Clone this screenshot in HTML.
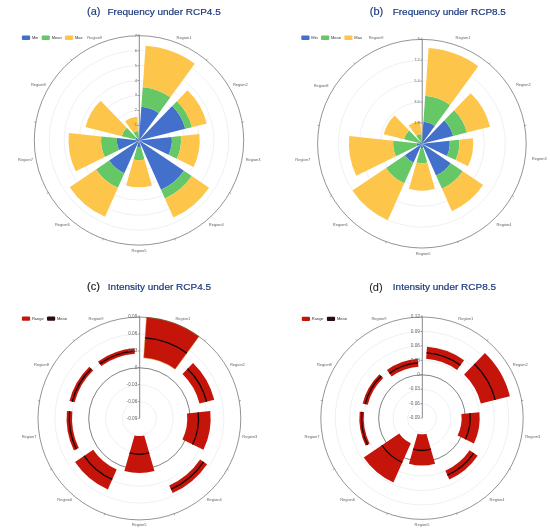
<!DOCTYPE html>
<html><head><meta charset="utf-8"><title>Frequency and intensity under RCP scenarios</title>
<style>html,body{margin:0;padding:0;background:#fff}svg{display:block}</style></head>
<body>
<svg width="550" height="532" viewBox="0 0 550 532">
<rect width="550" height="532" fill="#fff"/>
<circle cx="139.0" cy="140.4" r="14.96" fill="none" stroke="#E2E5EF" stroke-width="0.6"/>
<circle cx="139.0" cy="140.4" r="29.91" fill="none" stroke="#E2E5EF" stroke-width="0.6"/>
<circle cx="139.0" cy="140.4" r="44.87" fill="none" stroke="#E2E5EF" stroke-width="0.6"/>
<circle cx="139.0" cy="140.4" r="59.83" fill="none" stroke="#E2E5EF" stroke-width="0.6"/>
<circle cx="139.0" cy="140.4" r="74.79" fill="none" stroke="#E2E5EF" stroke-width="0.6"/>
<circle cx="139.0" cy="140.4" r="89.74" fill="none" stroke="#E2E5EF" stroke-width="0.6"/>
<path d="M139.00,140.40L141.35,106.83A33.65,33.65 0 0 1 158.78,113.17Z" fill="#4270CB"/>
<path d="M142.72,87.13A53.40,53.40 0 0 1 170.39,97.20L158.78,113.17A33.65,33.65 0 0 0 141.35,106.83Z" fill="#66C766"/>
<path d="M145.61,45.80A94.83,94.83 0 0 1 194.74,63.68L170.39,97.20A53.40,53.40 0 0 0 142.72,87.13Z" fill="#FDC54A"/>
<path d="M139.00,140.40L172.14,106.08A47.71,47.71 0 0 1 185.30,128.86Z" fill="#4270CB"/>
<path d="M176.92,101.13A54.59,54.59 0 0 1 191.97,127.19L185.30,128.86A47.71,47.71 0 0 0 172.14,106.08Z" fill="#66C766"/>
<path d="M187.52,90.15A69.85,69.85 0 0 1 206.78,123.50L191.97,127.19A54.59,54.59 0 0 0 176.92,101.13Z" fill="#FDC54A"/>
<path d="M139.00,140.40L171.73,136.96A32.91,32.91 0 0 1 168.58,154.82Z" fill="#4270CB"/>
<path d="M180.80,136.01A42.03,42.03 0 0 1 176.78,158.82L168.58,154.82A32.91,32.91 0 0 0 171.73,136.96Z" fill="#66C766"/>
<path d="M199.39,134.05A60.73,60.73 0 0 1 193.58,167.02L176.78,158.82A42.03,42.03 0 0 0 180.80,136.01Z" fill="#FDC54A"/>
<path d="M139.00,140.40L183.89,170.68A54.14,54.14 0 0 1 161.02,189.86Z" fill="#4270CB"/>
<path d="M191.82,176.03A63.72,63.72 0 0 1 164.92,198.61L161.02,189.86A54.14,54.14 0 0 0 183.89,170.68Z" fill="#66C766"/>
<path d="M209.06,187.66A84.51,84.51 0 0 1 173.37,217.60L164.92,198.61A63.72,63.72 0 0 0 191.82,176.03Z" fill="#FDC54A"/>
<path d="M139.00,140.40L140.86,146.87A6.73,6.73 0 0 1 137.14,146.87Z" fill="#4270CB"/>
<path d="M144.44,159.38A19.74,19.74 0 0 1 133.56,159.38L137.14,146.87A6.73,6.73 0 0 0 140.86,146.87Z" fill="#66C766"/>
<path d="M151.90,185.40A46.82,46.82 0 0 1 126.10,185.40L133.56,159.38A19.74,19.74 0 0 0 144.44,159.38Z" fill="#FDC54A"/>
<path d="M139.00,140.40L124.34,173.33A36.05,36.05 0 0 1 109.12,160.56Z" fill="#4270CB"/>
<path d="M117.89,187.81A51.90,51.90 0 0 1 95.97,169.42L109.12,160.56A36.05,36.05 0 0 0 124.34,173.33Z" fill="#66C766"/>
<path d="M104.99,216.78A83.61,83.61 0 0 1 69.68,187.15L95.97,169.42A51.90,51.90 0 0 0 117.89,187.81Z" fill="#FDC54A"/>
<path d="M139.00,140.40L119.10,150.10A22.14,22.14 0 0 1 116.98,138.09Z" fill="#4270CB"/>
<path d="M104.85,157.05A37.99,37.99 0 0 1 101.22,136.43L116.98,138.09A22.14,22.14 0 0 0 119.10,150.10Z" fill="#66C766"/>
<path d="M75.68,171.28A70.45,70.45 0 0 1 68.94,133.04L101.22,136.43A37.99,37.99 0 0 0 104.85,157.05Z" fill="#FDC54A"/>
<path d="M139.00,140.40L135.37,139.50A3.74,3.74 0 0 1 136.40,137.71Z" fill="#4270CB"/>
<path d="M121.87,136.13A17.65,17.65 0 0 1 126.74,127.70L136.40,137.71A3.74,3.74 0 0 0 135.37,139.50Z" fill="#66C766"/>
<path d="M85.45,127.05A55.19,55.19 0 0 1 100.66,100.70L126.74,127.70A17.65,17.65 0 0 0 121.87,136.13Z" fill="#FDC54A"/>
<path d="M139.00,140.40L137.68,138.58A2.24,2.24 0 0 1 138.84,138.16Z" fill="#4270CB"/>
<path d="M133.46,132.78A9.42,9.42 0 0 1 138.34,131.00L138.84,138.16A2.24,2.24 0 0 0 137.68,138.58Z" fill="#66C766"/>
<path d="M125.02,121.16A23.78,23.78 0 0 1 137.34,116.68L138.34,131.00A9.42,9.42 0 0 0 133.46,132.78Z" fill="#FDC54A"/>
<circle cx="139.0" cy="140.4" r="104.70" fill="none" stroke="#3a3a3a" stroke-width="0.55"/>
<line x1="139.00" y1="35.70" x2="139.00" y2="34.00" stroke="#333" stroke-width="0.4"/>
<line x1="206.30" y1="60.20" x2="207.39" y2="58.89" stroke="#333" stroke-width="0.4"/>
<line x1="242.11" y1="122.22" x2="243.78" y2="121.92" stroke="#333" stroke-width="0.4"/>
<line x1="229.67" y1="192.75" x2="231.15" y2="193.60" stroke="#333" stroke-width="0.4"/>
<line x1="174.81" y1="238.79" x2="175.39" y2="240.38" stroke="#333" stroke-width="0.4"/>
<line x1="103.19" y1="238.79" x2="102.61" y2="240.38" stroke="#333" stroke-width="0.4"/>
<line x1="48.33" y1="192.75" x2="46.85" y2="193.60" stroke="#333" stroke-width="0.4"/>
<line x1="35.89" y1="122.22" x2="34.22" y2="121.92" stroke="#333" stroke-width="0.4"/>
<line x1="71.70" y1="60.20" x2="70.61" y2="58.89" stroke="#333" stroke-width="0.4"/>
<text x="176.50" y="38.89" font-size="4" fill="#666" text-anchor="start" font-family="Liberation Sans, Arial, sans-serif">Region1</text>
<text x="232.88" y="86.20" font-size="4" fill="#666" text-anchor="start" font-family="Liberation Sans, Arial, sans-serif">Region2</text>
<text x="245.67" y="160.68" font-size="4" fill="#666" text-anchor="start" font-family="Liberation Sans, Arial, sans-serif">Region3</text>
<text x="208.86" y="226.43" font-size="4" fill="#666" text-anchor="start" font-family="Liberation Sans, Arial, sans-serif">Region4</text>
<text x="139.00" y="251.60" font-size="4" fill="#666" text-anchor="middle" font-family="Liberation Sans, Arial, sans-serif">Region5</text>
<text x="69.84" y="226.43" font-size="4" fill="#666" text-anchor="end" font-family="Liberation Sans, Arial, sans-serif">Region6</text>
<text x="33.03" y="160.68" font-size="4" fill="#666" text-anchor="end" font-family="Liberation Sans, Arial, sans-serif">Region7</text>
<text x="45.82" y="86.20" font-size="4" fill="#666" text-anchor="end" font-family="Liberation Sans, Arial, sans-serif">Region8</text>
<text x="102.20" y="38.89" font-size="4" fill="#666" text-anchor="end" font-family="Liberation Sans, Arial, sans-serif">Region9</text>
<line x1="139.3" y1="140.4" x2="139.3" y2="35.70" stroke="#84878e" stroke-width="1.0"/>
<line x1="137.50" y1="140.40" x2="139.0" y2="140.40" stroke="#333" stroke-width="0.4"/>
<line x1="137.50" y1="125.44" x2="139.0" y2="125.44" stroke="#333" stroke-width="0.4"/>
<text x="136.90" y="126.37" font-size="4" fill="#666" text-anchor="end" font-family="Liberation Sans, Arial, sans-serif">1</text>
<line x1="137.50" y1="110.49" x2="139.0" y2="110.49" stroke="#333" stroke-width="0.4"/>
<text x="136.90" y="111.42" font-size="4" fill="#666" text-anchor="end" font-family="Liberation Sans, Arial, sans-serif">2</text>
<line x1="137.50" y1="95.53" x2="139.0" y2="95.53" stroke="#333" stroke-width="0.4"/>
<text x="136.90" y="96.46" font-size="4" fill="#666" text-anchor="end" font-family="Liberation Sans, Arial, sans-serif">3</text>
<line x1="137.50" y1="80.57" x2="139.0" y2="80.57" stroke="#333" stroke-width="0.4"/>
<text x="136.90" y="81.50" font-size="4" fill="#666" text-anchor="end" font-family="Liberation Sans, Arial, sans-serif">4</text>
<line x1="137.50" y1="65.61" x2="139.0" y2="65.61" stroke="#333" stroke-width="0.4"/>
<text x="136.90" y="66.55" font-size="4" fill="#666" text-anchor="end" font-family="Liberation Sans, Arial, sans-serif">5</text>
<line x1="137.50" y1="50.66" x2="139.0" y2="50.66" stroke="#333" stroke-width="0.4"/>
<text x="136.90" y="51.59" font-size="4" fill="#666" text-anchor="end" font-family="Liberation Sans, Arial, sans-serif">6</text>
<line x1="137.50" y1="35.70" x2="139.0" y2="35.70" stroke="#333" stroke-width="0.4"/>
<text x="136.90" y="36.63" font-size="4" fill="#666" text-anchor="end" font-family="Liberation Sans, Arial, sans-serif">7</text>
<rect x="21.90" y="35.60" width="8.2" height="4.3" rx="1.0" fill="#4270CB"/>
<text x="31.90" y="39.15" font-size="4" fill="#333" font-family="Liberation Sans, Arial, sans-serif">Min</text>
<rect x="41.64" y="35.60" width="8.2" height="4.3" rx="1.0" fill="#66C766"/>
<text x="51.64" y="39.15" font-size="4" fill="#333" font-family="Liberation Sans, Arial, sans-serif">Mean</text>
<rect x="64.94" y="35.60" width="8.2" height="4.3" rx="1.0" fill="#FDC54A"/>
<text x="74.94" y="39.15" font-size="4" fill="#333" font-family="Liberation Sans, Arial, sans-serif">Max</text>
<circle cx="421.9" cy="143.7" r="20.86" fill="none" stroke="#E2E5EF" stroke-width="0.6"/>
<circle cx="421.9" cy="143.7" r="41.72" fill="none" stroke="#E2E5EF" stroke-width="0.6"/>
<circle cx="421.9" cy="143.7" r="62.58" fill="none" stroke="#E2E5EF" stroke-width="0.6"/>
<circle cx="421.9" cy="143.7" r="83.44" fill="none" stroke="#E2E5EF" stroke-width="0.6"/>
<path d="M421.90,143.70L423.43,121.85A21.90,21.90 0 0 1 434.77,125.98Z" fill="#4270CB"/>
<path d="M425.25,95.84A47.98,47.98 0 0 1 450.10,104.88L434.77,125.98A21.90,21.90 0 0 0 423.43,121.85Z" fill="#66C766"/>
<path d="M428.59,48.08A95.85,95.85 0 0 1 478.24,66.15L450.10,104.88A47.98,47.98 0 0 0 425.25,95.84Z" fill="#FDC54A"/>
<path d="M421.90,143.70L444.22,120.59A32.12,32.12 0 0 1 453.07,135.93Z" fill="#4270CB"/>
<path d="M454.14,110.31A46.41,46.41 0 0 1 466.93,132.47L453.07,135.93A32.12,32.12 0 0 0 444.22,120.59Z" fill="#66C766"/>
<path d="M470.73,93.13A70.30,70.30 0 0 1 490.11,126.69L466.93,132.47A46.41,46.41 0 0 0 454.14,110.31Z" fill="#FDC54A"/>
<path d="M421.90,143.70L449.60,140.79A27.85,27.85 0 0 1 446.93,155.91Z" fill="#4270CB"/>
<path d="M459.14,139.79A37.44,37.44 0 0 1 455.55,160.11L446.93,155.91A27.85,27.85 0 0 0 449.60,140.79Z" fill="#66C766"/>
<path d="M472.93,138.34A51.32,51.32 0 0 1 468.02,166.20L455.55,160.11A37.44,37.44 0 0 0 459.14,139.79Z" fill="#FDC54A"/>
<path d="M421.90,143.70L450.78,163.18A34.84,34.84 0 0 1 436.07,175.52Z" fill="#4270CB"/>
<path d="M462.80,171.29A49.33,49.33 0 0 1 441.97,188.77L436.07,175.52A34.84,34.84 0 0 0 450.78,163.18Z" fill="#66C766"/>
<path d="M483.12,184.99A73.84,73.84 0 0 1 451.94,211.16L441.97,188.77A49.33,49.33 0 0 0 462.80,171.29Z" fill="#FDC54A"/>
<path d="M421.90,143.70L423.11,147.91A4.38,4.38 0 0 1 420.69,147.91Z" fill="#4270CB"/>
<path d="M427.30,162.55A19.61,19.61 0 0 1 416.50,162.55L420.69,147.91A4.38,4.38 0 0 0 423.11,147.91Z" fill="#66C766"/>
<path d="M434.84,188.82A46.93,46.93 0 0 1 408.96,188.82L416.50,162.55A19.61,19.61 0 0 0 427.30,162.55Z" fill="#FDC54A"/>
<path d="M421.90,143.70L413.54,162.47A20.55,20.55 0 0 1 404.87,155.19Z" fill="#4270CB"/>
<path d="M404.29,183.24A43.28,43.28 0 0 1 386.02,167.90L404.87,155.19A20.55,20.55 0 0 0 413.54,162.47Z" fill="#66C766"/>
<path d="M387.79,220.31A83.86,83.86 0 0 1 352.38,190.59L386.02,167.90A43.28,43.28 0 0 0 404.29,183.24Z" fill="#FDC54A"/>
<path d="M421.90,143.70L417.03,146.08A5.42,5.42 0 0 1 416.51,143.13Z" fill="#4270CB"/>
<path d="M396.03,156.32A28.79,28.79 0 0 1 393.27,140.69L416.51,143.13A5.42,5.42 0 0 0 417.03,146.08Z" fill="#66C766"/>
<path d="M356.28,175.71A73.01,73.01 0 0 1 349.29,136.07L393.27,140.69A28.79,28.79 0 0 0 396.03,156.32Z" fill="#FDC54A"/>
<path d="M421.90,143.70L419.07,142.99A2.92,2.92 0 0 1 419.87,141.60Z" fill="#4270CB"/>
<path d="M403.99,139.23A18.46,18.46 0 0 1 409.08,130.42L419.87,141.60A2.92,2.92 0 0 0 419.07,142.99Z" fill="#66C766"/>
<path d="M383.75,134.19A39.32,39.32 0 0 1 394.59,115.41L409.08,130.42A18.46,18.46 0 0 0 403.99,139.23Z" fill="#FDC54A"/>
<path d="M421.90,143.70L416.20,135.85A9.70,9.70 0 0 1 421.22,134.02Z" fill="#66C766"/>
<path d="M408.72,125.56A22.42,22.42 0 0 1 420.34,121.33L421.22,134.02A9.70,9.70 0 0 0 416.20,135.85Z" fill="#FDC54A"/>
<circle cx="421.9" cy="143.7" r="104.30" fill="none" stroke="#3a3a3a" stroke-width="0.55"/>
<line x1="421.90" y1="39.40" x2="421.90" y2="37.70" stroke="#333" stroke-width="0.4"/>
<line x1="488.94" y1="63.80" x2="490.04" y2="62.50" stroke="#333" stroke-width="0.4"/>
<line x1="524.62" y1="125.59" x2="526.29" y2="125.29" stroke="#333" stroke-width="0.4"/>
<line x1="512.23" y1="195.85" x2="513.70" y2="196.70" stroke="#333" stroke-width="0.4"/>
<line x1="457.57" y1="241.71" x2="458.15" y2="243.31" stroke="#333" stroke-width="0.4"/>
<line x1="386.23" y1="241.71" x2="385.65" y2="243.31" stroke="#333" stroke-width="0.4"/>
<line x1="331.57" y1="195.85" x2="330.10" y2="196.70" stroke="#333" stroke-width="0.4"/>
<line x1="319.18" y1="125.59" x2="317.51" y2="125.29" stroke="#333" stroke-width="0.4"/>
<line x1="354.86" y1="63.80" x2="353.76" y2="62.50" stroke="#333" stroke-width="0.4"/>
<text x="455.50" y="39.10" font-size="4" fill="#666" text-anchor="start" font-family="Liberation Sans, Arial, sans-serif">Region1</text>
<text x="515.90" y="85.90" font-size="4" fill="#666" text-anchor="start" font-family="Liberation Sans, Arial, sans-serif">Region2</text>
<text x="531.80" y="160.20" font-size="4" fill="#666" text-anchor="start" font-family="Liberation Sans, Arial, sans-serif">Region3</text>
<text x="496.60" y="225.80" font-size="4" fill="#666" text-anchor="start" font-family="Liberation Sans, Arial, sans-serif">Region4</text>
<text x="423.10" y="254.90" font-size="4" fill="#666" text-anchor="middle" font-family="Liberation Sans, Arial, sans-serif">Region5</text>
<text x="347.70" y="226.10" font-size="4" fill="#666" text-anchor="end" font-family="Liberation Sans, Arial, sans-serif">Region6</text>
<text x="310.20" y="160.70" font-size="4" fill="#666" text-anchor="end" font-family="Liberation Sans, Arial, sans-serif">Region7</text>
<text x="328.60" y="86.50" font-size="4" fill="#666" text-anchor="end" font-family="Liberation Sans, Arial, sans-serif">Region8</text>
<text x="383.60" y="38.90" font-size="4" fill="#666" text-anchor="end" font-family="Liberation Sans, Arial, sans-serif">Region9</text>
<line x1="422.2" y1="143.7" x2="422.2" y2="39.40" stroke="#84878e" stroke-width="1.0"/>
<line x1="420.40" y1="143.70" x2="421.9" y2="143.70" stroke="#333" stroke-width="0.4"/>
<line x1="420.40" y1="122.84" x2="421.9" y2="122.84" stroke="#333" stroke-width="0.4"/>
<text x="419.80" y="123.77" font-size="4" fill="#666" text-anchor="end" font-family="Liberation Sans, Arial, sans-serif">1.8</text>
<line x1="420.40" y1="101.98" x2="421.9" y2="101.98" stroke="#333" stroke-width="0.4"/>
<text x="419.80" y="102.91" font-size="4" fill="#666" text-anchor="end" font-family="Liberation Sans, Arial, sans-serif">3.6</text>
<line x1="420.40" y1="81.12" x2="421.9" y2="81.12" stroke="#333" stroke-width="0.4"/>
<text x="419.80" y="82.05" font-size="4" fill="#666" text-anchor="end" font-family="Liberation Sans, Arial, sans-serif">5.4</text>
<line x1="420.40" y1="60.26" x2="421.9" y2="60.26" stroke="#333" stroke-width="0.4"/>
<text x="419.80" y="61.19" font-size="4" fill="#666" text-anchor="end" font-family="Liberation Sans, Arial, sans-serif">7.2</text>
<line x1="420.40" y1="39.40" x2="421.9" y2="39.40" stroke="#333" stroke-width="0.4"/>
<text x="419.80" y="40.33" font-size="4" fill="#666" text-anchor="end" font-family="Liberation Sans, Arial, sans-serif">9</text>
<rect x="301.30" y="35.60" width="8.2" height="4.3" rx="1.0" fill="#4270CB"/>
<text x="311.30" y="39.15" font-size="4" fill="#333" font-family="Liberation Sans, Arial, sans-serif">Min</text>
<rect x="321.04" y="35.60" width="8.2" height="4.3" rx="1.0" fill="#66C766"/>
<text x="331.04" y="39.15" font-size="4" fill="#333" font-family="Liberation Sans, Arial, sans-serif">Mean</text>
<rect x="344.34" y="35.60" width="8.2" height="4.3" rx="1.0" fill="#FDC54A"/>
<text x="354.34" y="39.15" font-size="4" fill="#333" font-family="Liberation Sans, Arial, sans-serif">Max</text>
<circle cx="139.4" cy="418.5" r="16.90" fill="none" stroke="#E2E5EF" stroke-width="0.6"/>
<circle cx="139.4" cy="418.5" r="33.80" fill="none" stroke="#E2E5EF" stroke-width="0.6"/>
<circle cx="139.4" cy="418.5" r="50.70" fill="none" stroke="#E2E5EF" stroke-width="0.6"/>
<circle cx="139.4" cy="418.5" r="67.60" fill="none" stroke="#E2E5EF" stroke-width="0.6"/>
<circle cx="139.4" cy="418.5" r="84.50" fill="none" stroke="#E2E5EF" stroke-width="0.6"/>
<circle cx="139.4" cy="418.5" r="50.70" fill="none" stroke="#4a4a4a" stroke-width="0.65"/>
<path d="M146.47,317.35A101.40,101.40 0 0 1 199.00,336.47L175.16,369.28A60.84,60.84 0 0 0 143.64,357.81Z" fill="#C5140A" stroke="#C9A227" stroke-width="0.45"/>
<path d="M145.04,337.86A80.84,80.84 0 0 1 186.92,353.10" fill="none" stroke="#160404" stroke-width="1.3"/>
<path d="M193.01,362.98A77.18,77.18 0 0 1 214.28,399.83L199.53,403.51A61.97,61.97 0 0 0 182.45,373.92Z" fill="#C5140A"/>
<path d="M187.53,368.66A69.29,69.29 0 0 1 206.63,401.74" fill="none" stroke="#160404" stroke-width="1.3"/>
<path d="M210.27,411.05A71.26,71.26 0 0 1 203.45,449.74L182.44,439.49A47.88,47.88 0 0 0 187.02,413.49Z" fill="#C5140A"/>
<path d="M198.23,412.32A59.15,59.15 0 0 1 192.56,444.43" fill="none" stroke="#160404" stroke-width="1.3"/>
<path d="M207.12,464.18A81.68,81.68 0 0 1 172.62,493.12L169.19,485.40A73.23,73.23 0 0 0 200.11,459.45Z" fill="#C5140A"/>
<path d="M203.62,461.81A77.46,77.46 0 0 1 170.91,489.26" fill="none" stroke="#160404" stroke-width="1.3"/>
<path d="M154.43,470.92A54.53,54.53 0 0 1 124.37,470.92L134.56,435.40A17.58,17.58 0 0 0 144.24,435.40Z" fill="#C5140A"/>
<path d="M149.26,452.89A35.77,35.77 0 0 1 129.54,452.89" fill="none" stroke="#160404" stroke-width="1.3"/>
<path d="M107.83,489.42A77.63,77.63 0 0 1 75.04,461.91L93.16,449.69A55.77,55.77 0 0 0 116.72,469.45Z" fill="#C5140A"/>
<path d="M112.27,479.43A66.70,66.70 0 0 1 84.10,455.80" fill="none" stroke="#160404" stroke-width="1.3"/>
<path d="M73.93,450.43A72.84,72.84 0 0 1 66.96,410.89L72.34,411.45A67.43,67.43 0 0 0 78.79,448.06Z" fill="#C5140A"/>
<path d="M76.36,449.25A70.14,70.14 0 0 1 69.65,411.17" fill="none" stroke="#160404" stroke-width="1.3"/>
<path d="M69.44,401.06A72.11,72.11 0 0 1 89.31,366.63L93.03,370.48A66.76,66.76 0 0 0 74.63,402.35Z" fill="#C5140A"/>
<path d="M72.17,401.74A69.29,69.29 0 0 1 91.27,368.66" fill="none" stroke="#160404" stroke-width="1.3"/>
<path d="M98.01,361.53A70.42,70.42 0 0 1 134.49,348.25L134.88,353.87A64.78,64.78 0 0 0 101.32,366.09Z" fill="#C5140A"/>
<path d="M99.67,363.81A67.60,67.60 0 0 1 134.68,351.06" fill="none" stroke="#160404" stroke-width="1.3"/>
<circle cx="139.4" cy="418.5" r="101.40" fill="none" stroke="#3a3a3a" stroke-width="0.55"/>
<line x1="139.40" y1="317.10" x2="139.40" y2="315.40" stroke="#333" stroke-width="0.4"/>
<line x1="204.58" y1="340.82" x2="205.67" y2="339.52" stroke="#333" stroke-width="0.4"/>
<line x1="239.26" y1="400.89" x2="240.93" y2="400.60" stroke="#333" stroke-width="0.4"/>
<line x1="227.21" y1="469.20" x2="228.69" y2="470.05" stroke="#333" stroke-width="0.4"/>
<line x1="174.08" y1="513.78" x2="174.66" y2="515.38" stroke="#333" stroke-width="0.4"/>
<line x1="104.72" y1="513.78" x2="104.14" y2="515.38" stroke="#333" stroke-width="0.4"/>
<line x1="51.59" y1="469.20" x2="50.11" y2="470.05" stroke="#333" stroke-width="0.4"/>
<line x1="39.54" y1="400.89" x2="37.87" y2="400.60" stroke="#333" stroke-width="0.4"/>
<line x1="74.22" y1="340.82" x2="73.13" y2="339.52" stroke="#333" stroke-width="0.4"/>
<text x="175.40" y="319.78" font-size="4" fill="#666" text-anchor="start" font-family="Liberation Sans, Arial, sans-serif">Region1</text>
<text x="229.95" y="365.55" font-size="4" fill="#666" text-anchor="start" font-family="Liberation Sans, Arial, sans-serif">Region2</text>
<text x="242.32" y="437.68" font-size="4" fill="#666" text-anchor="start" font-family="Liberation Sans, Arial, sans-serif">Region3</text>
<text x="206.71" y="501.35" font-size="4" fill="#666" text-anchor="start" font-family="Liberation Sans, Arial, sans-serif">Region4</text>
<text x="139.10" y="525.70" font-size="4" fill="#666" text-anchor="middle" font-family="Liberation Sans, Arial, sans-serif">Region5</text>
<text x="72.19" y="501.35" font-size="4" fill="#666" text-anchor="end" font-family="Liberation Sans, Arial, sans-serif">Region6</text>
<text x="36.58" y="437.68" font-size="4" fill="#666" text-anchor="end" font-family="Liberation Sans, Arial, sans-serif">Region7</text>
<text x="48.95" y="365.55" font-size="4" fill="#666" text-anchor="end" font-family="Liberation Sans, Arial, sans-serif">Region8</text>
<text x="103.50" y="319.78" font-size="4" fill="#666" text-anchor="end" font-family="Liberation Sans, Arial, sans-serif">Region9</text>
<line x1="139.70000000000002" y1="418.5" x2="139.70000000000002" y2="317.10" stroke="#84878e" stroke-width="1.0"/>
<line x1="137.90" y1="418.50" x2="139.4" y2="418.50" stroke="#333" stroke-width="0.4"/>
<text x="137.30" y="419.68" font-size="4.7" fill="#666" text-anchor="end" font-family="Liberation Sans, Arial, sans-serif">-0.09</text>
<line x1="137.90" y1="401.60" x2="139.4" y2="401.60" stroke="#333" stroke-width="0.4"/>
<text x="137.30" y="402.78" font-size="4.7" fill="#666" text-anchor="end" font-family="Liberation Sans, Arial, sans-serif">-0.06</text>
<line x1="137.90" y1="384.70" x2="139.4" y2="384.70" stroke="#333" stroke-width="0.4"/>
<text x="137.30" y="385.88" font-size="4.7" fill="#666" text-anchor="end" font-family="Liberation Sans, Arial, sans-serif">-0.03</text>
<line x1="137.90" y1="367.80" x2="139.4" y2="367.80" stroke="#333" stroke-width="0.4"/>
<text x="137.30" y="368.98" font-size="4.7" fill="#666" text-anchor="end" font-family="Liberation Sans, Arial, sans-serif">0</text>
<line x1="137.90" y1="350.90" x2="139.4" y2="350.90" stroke="#333" stroke-width="0.4"/>
<text x="137.30" y="352.08" font-size="4.7" fill="#666" text-anchor="end" font-family="Liberation Sans, Arial, sans-serif">0.03</text>
<line x1="137.90" y1="334.00" x2="139.4" y2="334.00" stroke="#333" stroke-width="0.4"/>
<text x="137.30" y="335.18" font-size="4.7" fill="#666" text-anchor="end" font-family="Liberation Sans, Arial, sans-serif">0.06</text>
<line x1="137.90" y1="317.10" x2="139.4" y2="317.10" stroke="#333" stroke-width="0.4"/>
<text x="137.30" y="318.28" font-size="4.7" fill="#666" text-anchor="end" font-family="Liberation Sans, Arial, sans-serif">0.09</text>
<rect x="21.90" y="316.40" width="8.2" height="4.3" rx="1.0" fill="#C5140A"/>
<text x="31.90" y="319.95" font-size="4" fill="#333" font-family="Liberation Sans, Arial, sans-serif">Range</text>
<rect x="46.98" y="316.40" width="8.2" height="4.3" rx="1.0" fill="#2B0B0B"/>
<text x="56.98" y="319.95" font-size="4" fill="#333" font-family="Liberation Sans, Arial, sans-serif">Mean</text>
<circle cx="422" cy="418.2" r="14.46" fill="none" stroke="#E2E5EF" stroke-width="0.6"/>
<circle cx="422" cy="418.2" r="28.91" fill="none" stroke="#E2E5EF" stroke-width="0.6"/>
<circle cx="422" cy="418.2" r="43.37" fill="none" stroke="#E2E5EF" stroke-width="0.6"/>
<circle cx="422" cy="418.2" r="57.83" fill="none" stroke="#E2E5EF" stroke-width="0.6"/>
<circle cx="422" cy="418.2" r="72.29" fill="none" stroke="#E2E5EF" stroke-width="0.6"/>
<circle cx="422" cy="418.2" r="86.74" fill="none" stroke="#E2E5EF" stroke-width="0.6"/>
<circle cx="422" cy="418.2" r="43.37" fill="none" stroke="#4a4a4a" stroke-width="0.65"/>
<path d="M426.99,346.86A71.51,71.51 0 0 1 464.04,360.34L457.01,370.01A59.56,59.56 0 0 0 426.15,358.78Z" fill="#C5140A"/>
<path d="M426.57,352.82A65.54,65.54 0 0 1 460.52,365.18" fill="none" stroke="#160404" stroke-width="1.3"/>
<path d="M484.93,353.03A90.60,90.60 0 0 1 509.91,396.28L480.82,403.53A60.62,60.62 0 0 0 464.11,374.59Z" fill="#C5140A"/>
<path d="M474.39,363.95A75.42,75.42 0 0 1 495.18,399.95" fill="none" stroke="#160404" stroke-width="1.3"/>
<path d="M479.37,412.17A57.68,57.68 0 0 1 473.85,443.49L457.60,435.57A39.61,39.61 0 0 0 461.40,414.06Z" fill="#C5140A"/>
<path d="M469.93,413.16A48.19,48.19 0 0 1 465.31,439.33" fill="none" stroke="#160404" stroke-width="1.3"/>
<path d="M477.69,455.77A67.18,67.18 0 0 1 449.32,479.57L445.38,470.72A57.49,57.49 0 0 0 469.66,450.35Z" fill="#C5140A"/>
<path d="M473.66,453.04A62.31,62.31 0 0 1 447.34,475.12" fill="none" stroke="#160404" stroke-width="1.3"/>
<path d="M435.06,463.74A47.37,47.37 0 0 1 408.94,463.74L417.58,433.63A16.05,16.05 0 0 0 426.42,433.63Z" fill="#C5140A"/>
<path d="M430.90,449.24A32.29,32.29 0 0 1 413.10,449.24" fill="none" stroke="#160404" stroke-width="1.3"/>
<path d="M393.42,482.39A70.26,70.26 0 0 1 363.75,457.49L399.23,433.56A27.47,27.47 0 0 0 410.83,443.29Z" fill="#C5140A"/>
<path d="M402.32,462.40A48.38,48.38 0 0 1 381.89,445.26" fill="none" stroke="#160404" stroke-width="1.3"/>
<path d="M365.69,445.66A62.65,62.65 0 0 1 359.70,411.65L364.01,412.10A58.31,58.31 0 0 0 369.59,443.76Z" fill="#C5140A"/>
<path d="M367.64,444.71A60.48,60.48 0 0 1 361.85,411.88" fill="none" stroke="#160404" stroke-width="1.3"/>
<path d="M362.62,403.39A61.20,61.20 0 0 1 379.49,374.18L383.17,377.99A55.90,55.90 0 0 0 367.76,404.68Z" fill="#C5140A"/>
<path d="M365.19,404.04A58.55,58.55 0 0 1 381.33,376.08" fill="none" stroke="#160404" stroke-width="1.3"/>
<path d="M386.93,369.93A59.66,59.66 0 0 1 417.84,358.69L418.40,366.67A51.66,51.66 0 0 0 391.63,376.41Z" fill="#C5140A"/>
<path d="M389.43,373.37A55.42,55.42 0 0 1 418.13,362.92" fill="none" stroke="#160404" stroke-width="1.3"/>
<circle cx="422" cy="418.2" r="101.20" fill="none" stroke="#3a3a3a" stroke-width="0.55"/>
<line x1="422.00" y1="317.00" x2="422.00" y2="315.30" stroke="#333" stroke-width="0.4"/>
<line x1="487.05" y1="340.68" x2="488.14" y2="339.37" stroke="#333" stroke-width="0.4"/>
<line x1="521.66" y1="400.63" x2="523.34" y2="400.33" stroke="#333" stroke-width="0.4"/>
<line x1="509.64" y1="468.80" x2="511.11" y2="469.65" stroke="#333" stroke-width="0.4"/>
<line x1="456.61" y1="513.30" x2="457.19" y2="514.89" stroke="#333" stroke-width="0.4"/>
<line x1="387.39" y1="513.30" x2="386.81" y2="514.89" stroke="#333" stroke-width="0.4"/>
<line x1="334.36" y1="468.80" x2="332.89" y2="469.65" stroke="#333" stroke-width="0.4"/>
<line x1="322.34" y1="400.63" x2="320.66" y2="400.33" stroke="#333" stroke-width="0.4"/>
<line x1="356.95" y1="340.68" x2="355.86" y2="339.37" stroke="#333" stroke-width="0.4"/>
<text x="458.30" y="319.78" font-size="4" fill="#666" text-anchor="start" font-family="Liberation Sans, Arial, sans-serif">Region1</text>
<text x="512.85" y="365.55" font-size="4" fill="#666" text-anchor="start" font-family="Liberation Sans, Arial, sans-serif">Region2</text>
<text x="525.22" y="437.68" font-size="4" fill="#666" text-anchor="start" font-family="Liberation Sans, Arial, sans-serif">Region3</text>
<text x="489.61" y="501.35" font-size="4" fill="#666" text-anchor="start" font-family="Liberation Sans, Arial, sans-serif">Region4</text>
<text x="422.00" y="525.70" font-size="4" fill="#666" text-anchor="middle" font-family="Liberation Sans, Arial, sans-serif">Region5</text>
<text x="355.09" y="501.35" font-size="4" fill="#666" text-anchor="end" font-family="Liberation Sans, Arial, sans-serif">Region6</text>
<text x="319.48" y="437.68" font-size="4" fill="#666" text-anchor="end" font-family="Liberation Sans, Arial, sans-serif">Region7</text>
<text x="331.85" y="365.55" font-size="4" fill="#666" text-anchor="end" font-family="Liberation Sans, Arial, sans-serif">Region8</text>
<text x="386.40" y="319.78" font-size="4" fill="#666" text-anchor="end" font-family="Liberation Sans, Arial, sans-serif">Region9</text>
<line x1="422.3" y1="418.2" x2="422.3" y2="317.00" stroke="#84878e" stroke-width="1.0"/>
<line x1="420.50" y1="418.20" x2="422" y2="418.20" stroke="#333" stroke-width="0.4"/>
<text x="419.90" y="419.38" font-size="4.7" fill="#666" text-anchor="end" font-family="Liberation Sans, Arial, sans-serif">-0.09</text>
<line x1="420.50" y1="403.74" x2="422" y2="403.74" stroke="#333" stroke-width="0.4"/>
<text x="419.90" y="404.93" font-size="4.7" fill="#666" text-anchor="end" font-family="Liberation Sans, Arial, sans-serif">-0.06</text>
<line x1="420.50" y1="389.29" x2="422" y2="389.29" stroke="#333" stroke-width="0.4"/>
<text x="419.90" y="390.47" font-size="4.7" fill="#666" text-anchor="end" font-family="Liberation Sans, Arial, sans-serif">-0.03</text>
<line x1="420.50" y1="374.83" x2="422" y2="374.83" stroke="#333" stroke-width="0.4"/>
<text x="419.90" y="376.01" font-size="4.7" fill="#666" text-anchor="end" font-family="Liberation Sans, Arial, sans-serif">0</text>
<line x1="420.50" y1="360.37" x2="422" y2="360.37" stroke="#333" stroke-width="0.4"/>
<text x="419.90" y="361.55" font-size="4.7" fill="#666" text-anchor="end" font-family="Liberation Sans, Arial, sans-serif">0.03</text>
<line x1="420.50" y1="345.91" x2="422" y2="345.91" stroke="#333" stroke-width="0.4"/>
<text x="419.90" y="347.10" font-size="4.7" fill="#666" text-anchor="end" font-family="Liberation Sans, Arial, sans-serif">0.06</text>
<line x1="420.50" y1="331.46" x2="422" y2="331.46" stroke="#333" stroke-width="0.4"/>
<text x="419.90" y="332.64" font-size="4.7" fill="#666" text-anchor="end" font-family="Liberation Sans, Arial, sans-serif">0.09</text>
<line x1="420.50" y1="317.00" x2="422" y2="317.00" stroke="#333" stroke-width="0.4"/>
<text x="419.90" y="318.18" font-size="4.7" fill="#666" text-anchor="end" font-family="Liberation Sans, Arial, sans-serif">0.12</text>
<rect x="301.80" y="316.80" width="8.2" height="4.3" rx="1.0" fill="#C5140A"/>
<text x="311.80" y="320.35" font-size="4" fill="#333" font-family="Liberation Sans, Arial, sans-serif">Range</text>
<rect x="326.88" y="316.80" width="8.2" height="4.3" rx="1.0" fill="#2B0B0B"/>
<text x="336.88" y="320.35" font-size="4" fill="#333" font-family="Liberation Sans, Arial, sans-serif">Mean</text>
<text transform="translate(87.0,15.0) scale(1.1,1)" font-size="10" font-family="Liberation Sans, Arial, sans-serif" fill="#1B397E" stroke="#1B397E" stroke-width="0.15">(a)</text><text transform="translate(107.5,14.8) scale(1.136,1)" font-size="8.8" font-family="Liberation Sans, Arial, sans-serif" fill="#1B397E" stroke="#1B397E" stroke-width="0.18">Frequency under RCP4.5</text>
<text transform="translate(369.8,15.1) scale(1.1,1)" font-size="10" font-family="Liberation Sans, Arial, sans-serif" fill="#1B397E" stroke="#1B397E" stroke-width="0.15">(b)</text><text transform="translate(392.7,14.5) scale(1.136,1)" font-size="8.8" font-family="Liberation Sans, Arial, sans-serif" fill="#1B397E" stroke="#1B397E" stroke-width="0.18">Frequency under RCP8.5</text>
<text transform="translate(87.0,290.2) scale(1.1,1)" font-size="10" font-family="Liberation Sans, Arial, sans-serif" fill="#222" stroke="#222" stroke-width="0.2">(c)</text><text transform="translate(107.8,289.5) scale(1.136,1)" font-size="8.8" font-family="Liberation Sans, Arial, sans-serif" fill="#1B397E" stroke="#1B397E" stroke-width="0.18">Intensity under RCP4.5</text>
<text transform="translate(369.2,290.8) scale(1.1,1)" font-size="10" font-family="Liberation Sans, Arial, sans-serif" fill="#222" stroke="#222" stroke-width="0.05">(d)</text><text transform="translate(392.8,290.4) scale(1.136,1)" font-size="8.8" font-family="Liberation Sans, Arial, sans-serif" fill="#1B397E" stroke="#1B397E" stroke-width="0.18">Intensity under RCP8.5</text>
</svg>
</body></html>
